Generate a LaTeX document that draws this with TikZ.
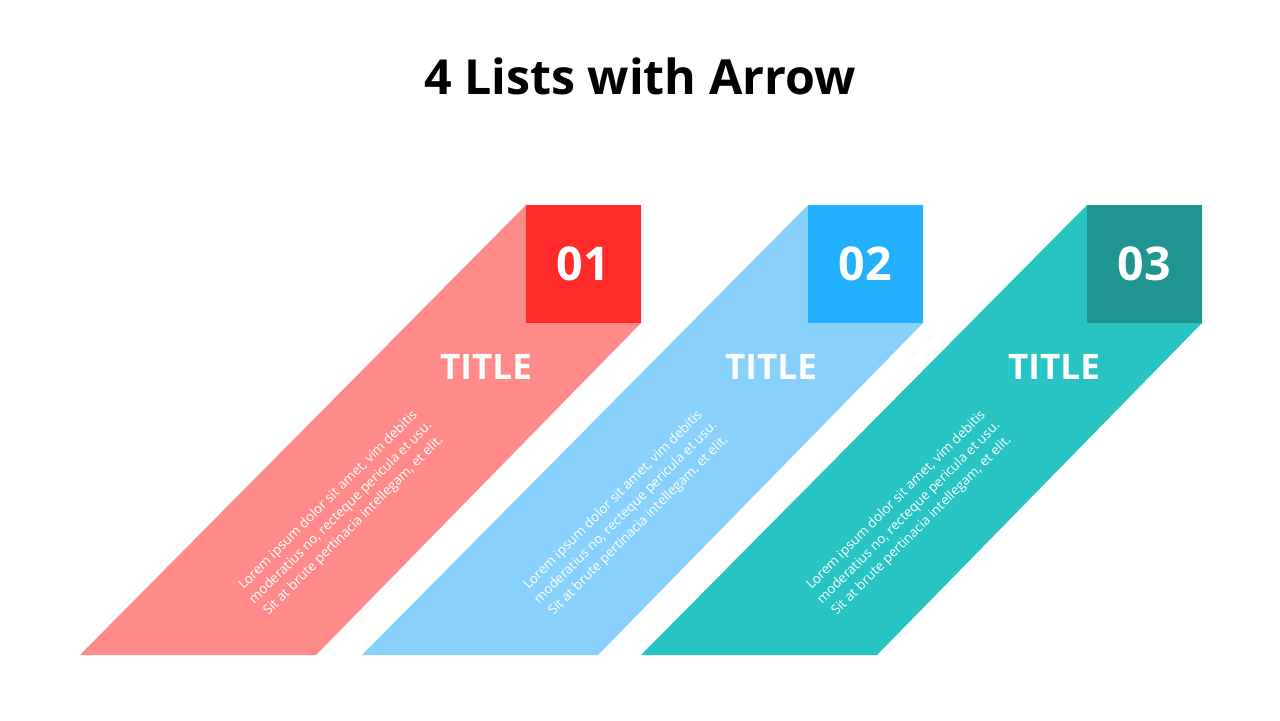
\documentclass[tikz,border=0pt]{standalone}
\usepackage{fontspec}
\setmainfont{Open Sans}
\definecolor{lightred}{HTML}{FF8A8A}
\definecolor{darkred}{HTML}{FF2A2A}
\definecolor{lightblue}{HTML}{87D1FC}
\definecolor{darkblue}{HTML}{22B0FF}
\definecolor{lightteal}{HTML}{28C4C4}
\definecolor{darkteal}{HTML}{1F9490}
\tikzstyle{numtext} = [text=white, font=\bfseries\fontsize{26.5}{30}\selectfont]
\tikzstyle{titletext} = [text=white, font=\bfseries\fontsize{20}{24}\selectfont]
\tikzstyle{bodytext} = [text=white, font=\fontsize{7.6}{10.2}\selectfont, align=center, rotate=45]

\begin{document}
\begin{tikzpicture}[x=0.02cm, y=-0.02cm]
        \useasboundingbox (0,0) rectangle (1280,720);
        \node (heading) at (640,76) [font=\bfseries\fontsize{27.5}{30}\selectfont] {4 Lists with Arrow};

        % three slanted bands
        \foreach \dx/\tx/\light/\dark/\num [count=\i] in {0/0/lightred/darkred/01, 282/285/lightblue/darkblue/02, 561/568/lightteal/darkteal/03}{
            \fill[\light] (80+\dx,655) -- (316+\dx,655) -- (641+\dx,323) -- (641+\dx,205) -- (526+\dx,205) -- cycle;
            \fill[\dark] (526+\dx,205) rectangle (641+\dx,323);
            \node (num\i) [numtext] at (583+\dx,264) {\num};
            \node (title\i) [titletext] at (486+\tx,367) {TITLE};
            \node (body\i) [bodytext] at (341+\tx,513) {Lorem ipsum dolor sit amet, vim debitis\\ moderatius no, recteque pericula et usu.\\ Sit at brute pertinacia intellegam, et elit.};
        }
    \end{tikzpicture}
\end{document}
